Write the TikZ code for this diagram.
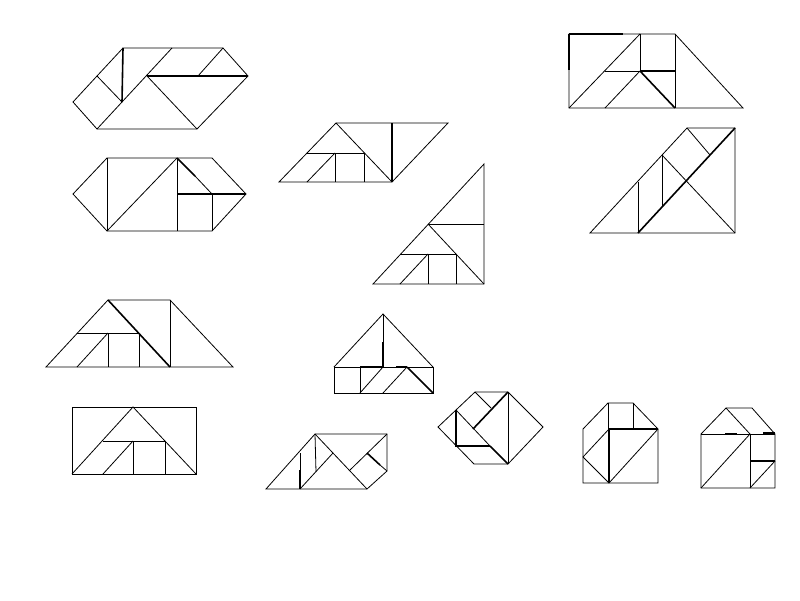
\documentclass[tikz,border=0pt]{standalone}
\usetikzlibrary{calc}
\tikzstyle{edge} = [draw=black, line width=0.8pt, line join=miter]
\tikzstyle{bold-edge} = [draw=black, line width=1.6pt]

\begin{document}
\begin{tikzpicture}[x=1pt, y=-1pt]
\useasboundingbox[fill=white] (0,0) rectangle (800,600);

% Figure 1: hexagon, top left
\draw[edge] (123,48) -- (223,48) -- (248,76) -- (197,129) -- (97,129) -- (73,102) -- (97,76) -- cycle;
\draw[edge] (97,76) -- (122,102);
\draw[edge] (172,48) -- (97,129);
\draw[edge] (223,48) -- (198,76);
\draw[edge] (147,76) -- (197,129);
\draw[bold-edge] (123,48) -- (122,102);
\draw[bold-edge] (147,76) -- (248,76);

% Figure 2: hexagon below it
\draw[edge] (73,194) -- (107,158) -- (212,158) -- (246,194) -- (212,231) -- (107,231) -- cycle;
\draw[edge] (107,158) -- (107,231);
\draw[edge] (107,231) -- (177,158);
\draw[edge] (177,158) -- (177,231);
\draw[bold-edge] (177,158) -- (195,176);
\draw[edge] (195,176) -- (212,194);
\draw[bold-edge] (177,194) -- (246,194);
\draw[edge] (212,194) -- (212,231);

% Figure 3: parallelogram
\draw[edge] (279,182) -- (336,123) -- (448,123) -- (392,182) -- cycle;
\draw[bold-edge] (392,123) -- (392,182);
\draw[edge] (336,123) -- (392,182);
\draw[edge] (307,153) -- (364,153);
\draw[edge] (307,182) -- (335,153);
\draw[edge] (335,153) -- (335,182);
\draw[edge] (364,153) -- (364,182);

% Figure 4: right triangle
\draw[edge] (373,284) -- (484,164) -- (484,284) -- cycle;
\draw[edge] (428,224) -- (484,224);
\draw[edge] (428,224) -- (484,284);
\draw[edge] (400,254) -- (456,254);
\draw[edge] (400,284) -- (428,254);
\draw[edge] (428,254) -- (428,284);
\draw[edge] (456,254) -- (456,284);

% Figure 5: trapezoid, top right
\draw[edge] (569,34) -- (675,34) -- (743,108) -- (569,108) -- cycle;
\draw[bold-edge] (569,34) -- (623,34);
\draw[bold-edge] (569,34) -- (569,70);
\draw[edge] (569,108) -- (640,34);
\draw[edge] (640,34) -- (640,71);
\draw[edge] (675,34) -- (675,108);
\draw[edge] (605,71) -- (640,71);
\draw[bold-edge] (640,71) -- (675,71);
\draw[edge] (605,108) -- (640,71);
\draw[bold-edge] (640,71) -- (675,108);

% Figure 6: trapezoid with long diagonal
\draw[edge] (590,233) -- (687,128) -- (735,128) -- (735,233) -- cycle;
\draw[bold-edge] (638,233) -- (735,128);
\draw[edge] (687,128) -- (710,155);
\draw[edge] (638,182) -- (638,233);
\draw[edge] (662,155) -- (662,207);
\draw[edge] (662,155) -- (735,233);

% Figure 7: trapezoid, left
\draw[edge] (46,367) -- (108,300) -- (170,300) -- (233,367) -- cycle;
\draw[bold-edge] (108,300) -- (170,367);
\draw[edge] (170,300) -- (170,367);
\draw[edge] (77,333) -- (139,333);
\draw[edge] (77,367) -- (108,333);
\draw[edge] (108,333) -- (108,367);
\draw[edge] (139,333) -- (139,367);

% Figure 8: rectangle
\draw[edge] (72,407) rectangle (196,474);
\draw[edge] (72,474) -- (133,407) -- (196,474);
\draw[edge] (103,441) -- (165,441);
\draw[edge] (103,474) -- (133,441);
\draw[edge] (133,441) -- (133,474);
\draw[edge] (165,441) -- (165,474);

% Figure 9: boat
\draw[edge] (334,367) -- (383,314) -- (433,367);
\draw[edge] (383,314) -- (383,342);
\draw[bold-edge] (383,342) -- (383,367);
\draw[edge] (334,367) rectangle (360,393);
\draw[edge] (360,367) rectangle (433,393);
\draw[edge] (360,393) -- (383,367);
\draw[edge] (383,393) -- (407,367);
\draw[bold-edge] (407,367) -- (433,393);
\draw[bold-edge] (360,367) -- (384,367);
\draw[bold-edge] (396,367) -- (407,367);

% Figure 10: parallelogram, bottom
\draw[edge] (266,489) -- (315,434) -- (387,434) -- (387,471) -- (367,489) -- cycle;
\draw[edge] (300,453) -- (300,470);
\draw[bold-edge] (300,470) -- (300,489);
\draw[edge] (315,434) -- (316,472);
\draw[edge] (300,489) -- (333,453);
\draw[edge] (315,434) -- (367,489);
\draw[edge] (387,434) -- (350,470);
\draw[bold-edge] (367,453) -- (380,465);
\draw[edge] (380,465) -- (387,471);

% Figure 11: octagon
\draw[edge] (438,427) -- (475,392) -- (508,392) -- (543,427) -- (508,464) -- (474,464) -- cycle;
\draw[edge] (475,392) -- (491,408);
\draw[bold-edge] (508,392) -- (473,429);
\draw[edge] (508,392) -- (508,464);
\draw[bold-edge] (456,410) -- (456,446) -- (490,446);
\draw[edge] (456,410) -- (490,446);
\draw[bold-edge] (490,446) -- (508,464);

% Figure 12: house
\draw[edge] (583,429) -- (608,403) -- (633,403) -- (658,429) -- (658,483) -- (583,483) -- cycle;
\draw[edge] (608,403) -- (608,429);
\draw[edge] (633,403) -- (633,429);
\draw[bold-edge] (608,429) -- (658,429);
\draw[bold-edge] (609,429) -- (609,483);
\draw[edge] (583,457) -- (609,429);
\draw[edge] (583,457) -- (609,483);
\draw[edge] (609,483) -- (658,429);

% Figure 13: house, right
\draw[edge] (701,434) -- (726,408) -- (752,408) -- (775,434) -- (775,488) -- (701,488) -- cycle;
\draw[edge] (726,408) -- (750,434);
\draw[edge] (701,434) -- (775,434);
\draw[edge] (750,434) -- (750,488);
\draw[edge] (701,488) -- (750,434);
\draw[bold-edge] (750,461) -- (775,461);
\draw[edge] (750,488) -- (775,461);
\draw[bold-edge] (725,434) -- (737,434);
\draw[bold-edge] (763,433) -- (775,433);

\end{tikzpicture}
\end{document}
